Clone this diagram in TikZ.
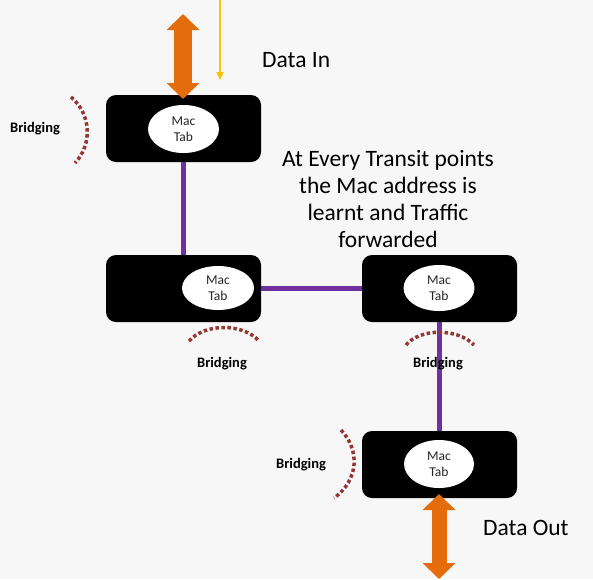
\documentclass[tikz,border=0pt]{standalone}
\usepackage{fontspec}
\setmainfont{Carlito}
\usetikzlibrary{arrows.meta,shapes.geometric}
\definecolor{bg}{HTML}{F7F7F7}
\definecolor{orng}{HTML}{E46C0A}
\definecolor{purp}{HTML}{7030A0}
\definecolor{yell}{HTML}{FFC000}
\definecolor{dotred}{HTML}{953735}
\begin{document}
\begin{tikzpicture}[x=1pt,y=-1pt,
  switchbox/.style={rectangle,rounded corners=10pt,fill=black,minimum width=155pt,minimum height=67pt,inner sep=0pt},
  mactab/.style={ellipse,fill=white,inner sep=0pt,align=center,font=\fontsize{13.5}{15.5}\selectfont,text=black!85},
  link/.style={draw=purp,line width=5pt},
  bigarrow/.style={draw=orng,{Triangle[width=32pt,length=16pt]}-{Triangle[width=32pt,length=16pt]}},
  bridgearc/.style={draw=dotred,line width=3.5pt,dash pattern=on 3.5pt off 2.5pt},
  bridgelabel/.style={font=\bfseries\fontsize{14.5}{16}\selectfont,inner sep=0pt},
  bigtext/.style={font=\fontsize{23.5}{27}\selectfont,inner sep=0pt}]
\fill[bg] (0,0) rectangle (593,579);
\useasboundingbox (0,0) rectangle (593,579);
% switches
\node[switchbox] (b1) at (183.5,128.5) {};
\node[switchbox] (b2) at (183.5,288.5) {};
\node[switchbox] (b3) at (439.5,288.5) {};
\node[switchbox] (b4) at (439.5,464.5) {};
\node[mactab,minimum width=71pt,minimum height=48pt] (e1) at (183.5,129) {Mac\\Tab};
\node[mactab,minimum width=72pt,minimum height=44pt] (e2) at (218,288) {Mac\\Tab};
\node[mactab,minimum width=71pt,minimum height=46pt] (e3) at (439,288) {Mac\\Tab};
\node[mactab,minimum width=70pt,minimum height=48pt] (e4) at (439,464) {Mac\\Tab};
% links
\draw[link] (b1.south) -- (b2.north);
\draw[link] (b2.east) -- (b3.west);
\draw[link] (b3.south) -- (b4.north);
% data arrows
\coordinate (inTop) at (183,14);
\coordinate (inBot) at (183,99);
\draw[bigarrow,line width=18pt] (inTop) -- (inBot);
\coordinate (outTop) at (439,494);
\coordinate (outBot) at (439,579);
\draw[bigarrow,line width=15pt] (outTop) -- (outBot);
\coordinate (yTop) at (220,0);
\coordinate (yBot) at (220,80);
\draw[draw=yell,line width=1.2pt,-{Triangle[width=7pt,length=8pt]}] (yTop) -- (yBot);
% bridging arcs
\draw[bridgearc] (71,97) .. controls (92,115) and (92,145) .. (75,163);
\draw[bridgearc] (189,341) .. controls (205,323) and (243,323) .. (259,341);
\draw[bridgearc] (406,345) .. controls (420,328) and (458,328) .. (474,345);
\draw[bridgearc] (341,430) .. controls (360,450) and (359,480) .. (334,498);
% labels
\node[bridgelabel,anchor=base west] (l1) at (10,132) {Bridging};
\node[bridgelabel,anchor=base] (l2) at (222,367) {Bridging};
\node[bridgelabel,anchor=base] (l3) at (438,367) {Bridging};
\node[bridgelabel,anchor=base west] (l4) at (276,468) {Bridging};
\node[bigtext,anchor=base west] (din) at (262,67) {Data In};
\node[bigtext,anchor=base west] (dout) at (483,535) {Data Out};
\node[bigtext,align=center,anchor=north] (transit) at (388,150) {At Every Transit points\\the Mac address is\\learnt and Traffic\\forwarded};
\end{tikzpicture}
\end{document}
